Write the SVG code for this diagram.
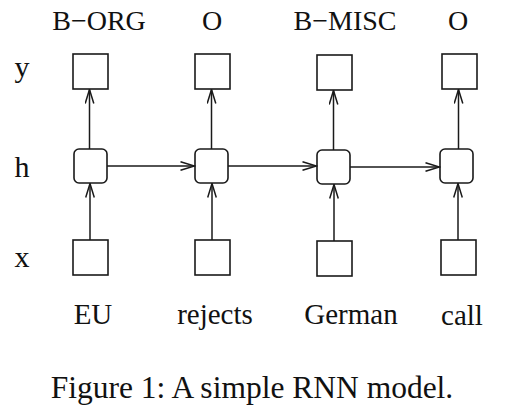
<svg xmlns="http://www.w3.org/2000/svg" width="516" height="411" viewBox="0 0 516 411">
<defs>
<style>
.box{fill:#fff;stroke:#1a1a1a;stroke-width:1.6}
.ln{stroke:#1a1a1a;stroke-width:1.5;fill:none}
.ah{stroke:#1a1a1a;stroke-width:1.5;fill:none}
.t{font-family:"Liberation Serif","Times New Roman",serif;fill:#111;text-anchor:middle}
</style>
<marker id="arr" viewBox="0 0 16 10" refX="15" refY="5" markerWidth="16" markerHeight="10" markerUnits="userSpaceOnUse" orient="auto">
<path d="M1,0.7 L15,5 L1,9.3" class="ah"/>
</marker>
</defs>
<rect width="516" height="411" fill="#fff"/>
<g id="row-labels">
<text class="t" x="22" y="77" font-size="30">y</text>
<text class="t" x="22" y="177" font-size="30">h</text>
<text class="t" x="22" y="267" font-size="30">x</text>
</g>
<g id="tags">
<text class="t" x="99" y="30" font-size="28">B−ORG</text>
<text class="t" x="212" y="30" font-size="28">O</text>
<text class="t" x="345" y="30" font-size="28">B−MISC</text>
<text class="t" x="458" y="30" font-size="28">O</text>
</g>
<g id="y1"><rect class="box" x="73" y="54" width="35" height="35"/></g>
<g id="y2"><rect class="box" x="195" y="54" width="35" height="35"/></g>
<g id="y3"><rect class="box" x="317" y="55" width="35" height="35"/></g>
<g id="y4"><rect class="box" x="442" y="54" width="35" height="35"/></g>
<g id="h1"><rect class="box" x="74" y="149" width="33" height="34" rx="5"/></g>
<g id="h2"><rect class="box" x="195" y="149" width="33" height="34" rx="5"/></g>
<g id="h3"><rect class="box" x="317" y="150" width="33" height="34" rx="5"/></g>
<g id="h4"><rect class="box" x="440" y="149" width="33" height="34" rx="5"/></g>
<g id="x1"><rect class="box" x="73" y="240" width="35" height="35"/></g>
<g id="x2"><rect class="box" x="195" y="240" width="35" height="35"/></g>
<g id="x3"><rect class="box" x="317" y="241" width="35" height="35"/></g>
<g id="x4"><rect class="box" x="441" y="240" width="35" height="35"/></g>
<g id="connectors">
<line class="ln" x1="90" y1="240" x2="90" y2="183.5" marker-end="url(#arr)"/>
<line class="ln" x1="212" y1="240" x2="212" y2="183.5" marker-end="url(#arr)"/>
<line class="ln" x1="334" y1="241" x2="334" y2="184.5" marker-end="url(#arr)"/>
<line class="ln" x1="458" y1="240" x2="458" y2="183.5" marker-end="url(#arr)"/>
<line class="ln" x1="89.5" y1="149" x2="89.5" y2="89.5" marker-end="url(#arr)"/>
<line class="ln" x1="211.5" y1="149" x2="211.5" y2="89.5" marker-end="url(#arr)"/>
<line class="ln" x1="333.5" y1="150" x2="333.5" y2="90.5" marker-end="url(#arr)"/>
<line class="ln" x1="458.5" y1="149" x2="458.5" y2="89.5" marker-end="url(#arr)"/>
<line class="ln" x1="107" y1="166" x2="194.5" y2="166" marker-end="url(#arr)"/>
<line class="ln" x1="228" y1="166" x2="316.5" y2="166" marker-end="url(#arr)"/>
<line class="ln" x1="350" y1="167" x2="439.5" y2="167" marker-end="url(#arr)"/>
</g>
<g id="words">
<text class="t" x="93" y="324" font-size="29">EU</text>
<text class="t" x="215" y="324" font-size="29">rejects</text>
<text class="t" x="351" y="324" font-size="29">German</text>
<text class="t" x="462" y="325" font-size="29">call</text>
</g>
<text class="t" x="252" y="398" font-size="31.5">Figure 1: A simple RNN model.</text>
</svg>
